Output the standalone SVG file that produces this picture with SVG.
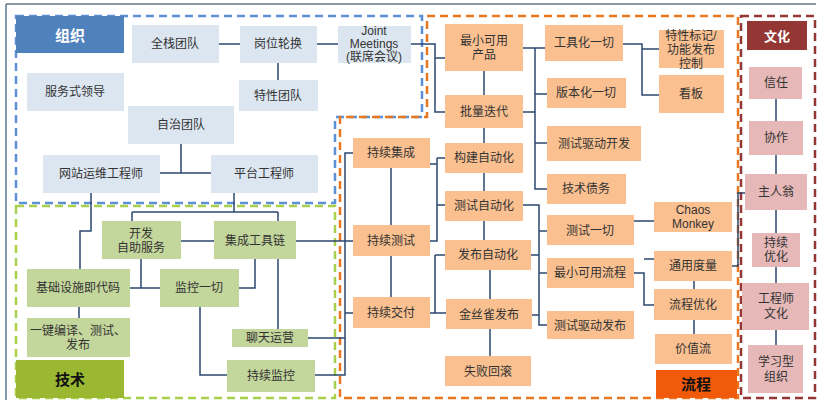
<svg xmlns="http://www.w3.org/2000/svg" width="827" height="420" viewBox="0 0 827 420">
<style>
text{font-family:"Liberation Sans","Noto Sans CJK SC",sans-serif;font-size:12px;fill:#333;text-anchor:middle;dominant-baseline:central}
.o{fill:#dce6f1}.t{fill:#c3d69b}.p{fill:#fac090}.c{fill:#e6b9b8}
.w{fill:#fff;font-weight:bold;font-size:15px}.b{fill:#111;font-weight:bold;font-size:15px}
#conn path{fill:none;stroke:#2c4770;stroke-width:1.5}
.d{fill:none;stroke-width:2.5;stroke-dasharray:8,5}
</style>
<rect width="827" height="420" fill="#fff"/>
<path d="M6,400V4H816" fill="none" stroke="#1f2d40" stroke-width="1"/>
<path d="M6,4V400" stroke="#7a9cc6" stroke-width="1"/>
<path class="d" stroke="#5b8fd6" d="M16,16H422V117H335V203H16Z"/>
<path class="d" stroke="#a8d04a" stroke-width="1.5" d="M16,206H335V398H16Z"/>
<path class="d" stroke="#e87722" d="M427,16H738V398H340V117H427Z"/>
<path class="d" stroke="#943634" d="M741,16H815V398H741Z"/>
<g id="conn">
<path d="M219,44H240M317,44H338M411,44H435V112H445M435,58H445M278,63V80M181,144V173M160,173H211"/>
<path d="M91,193V231H80V269M234,193V212M132,212H278M132,212V221M278,212V221"/>
<path d="M181,241H214M296,241H353M141,259V288M130,288H160M255,259V288H239M278,259V329M79,307V318M200,307V375H227M308,338H345M315,375H345V153H353M345,241H353M345,313H353"/>
<path d="M391,168V225M391,256V297"/>
<path d="M484,71V95M484,128V143M484,173V191M484,221V240M490,270V299M490,329V356"/>
<path d="M430,164H437M437,158H445M437,158V241H430M437,205H445M430,313H435M435,255V313H446M435,255H445"/>
<path d="M523,48H545M535,48V189H547M535,94H547M535,143H547M523,112H535"/>
<path d="M623,44H642V95H659M642,49H659"/>
<path d="M523,205H539V325H547M531,255H539M532,315H539M539,231H547M539,273H547"/>
<path d="M634,221H654M634,273H644V305H654M644,259H654M694,281V289M694,320V334M732,266H738V193H745"/>
<path d="M776,99V121M776,155V174M776,210V233M776,267V283M776,330V345"/>
</g>
<rect x="16" y="16" width="108" height="37" fill="#4f81bd"/><text class="w" x="70" y="35">组织</text>
<rect x="16" y="360" width="108" height="38" fill="#9bb832"/><text class="b" x="70" y="379">技术</text>
<rect x="656" y="370" width="81" height="28" fill="#f05a0a"/><text class="b" x="696" y="384">流程</text>
<rect x="747" y="21" width="60" height="29" fill="#943634"/><text class="w" x="777" y="36" style="font-size:13px">文化</text>
<g id="n1"><rect class="o" x="132" y="25" width="87" height="38"/><text x="175" y="44">全栈团队</text></g>
<g id="n2"><rect class="o" x="240" y="26" width="77" height="37"/><text x="278" y="44">岗位轮换</text></g>
<g id="n3"><rect class="o" x="338" y="26" width="73" height="37"/><text x="374" y="31">Joint</text><text x="374" y="44">Meetings</text><text x="374" y="57">(联席会议)</text></g>
<g id="n4"><rect class="o" x="27" y="73" width="97" height="38"/><text x="75" y="92">服务式领导</text></g>
<g id="n5"><rect class="o" x="239" y="80" width="79" height="31"/><text x="278" y="96">特性团队</text></g>
<g id="n6"><rect class="o" x="128" y="106" width="106" height="38"/><text x="181" y="125">自治团队</text></g>
<g id="n7"><rect class="o" x="43" y="155" width="117" height="38"/><text x="101" y="174">网站运维工程师</text></g>
<g id="n8"><rect class="o" x="211" y="155" width="107" height="38"/><text x="264" y="174">平台工程师</text></g>
<g id="t1"><rect class="t" x="102" y="221" width="79" height="38"/><text x="141" y="234">开发</text><text x="141" y="248">自助服务</text></g>
<g id="t2"><rect class="t" x="214" y="221" width="82" height="38"/><text x="255" y="241">集成工具链</text></g>
<g id="t3"><rect class="t" x="27" y="269" width="103" height="38"/><text x="78" y="288">基础设施即代码</text></g>
<g id="t4"><rect class="t" x="160" y="269" width="79" height="38"/><text x="199" y="288">监控一切</text></g>
<g id="t5"><rect class="t" x="27" y="318" width="103" height="39"/><text x="78" y="331">一键编译、测试、</text><text x="78" y="345">发布</text></g>
<g id="t6"><rect class="t" x="232" y="329" width="76" height="18"/><text x="270" y="338">聊天运营</text></g>
<g id="t7"><rect class="t" x="227" y="360" width="88" height="32"/><text x="271" y="376">持续监控</text></g>
<g id="p1"><rect class="p" x="353" y="138" width="77" height="30"/><text x="391" y="153">持续集成</text></g>
<g id="p2"><rect class="p" x="353" y="225" width="77" height="31"/><text x="391" y="241">持续测试</text></g>
<g id="p3"><rect class="p" x="353" y="297" width="77" height="31"/><text x="391" y="313">持续交付</text></g>
<g id="p4"><rect class="p" x="445" y="24" width="78" height="47"/><text x="484" y="41">最小可用</text><text x="484" y="55">产品</text></g>
<g id="p5"><rect class="p" x="445" y="95" width="78" height="33"/><text x="484" y="112">批量迭代</text></g>
<g id="p6"><rect class="p" x="445" y="143" width="78" height="30"/><text x="484" y="158">构建自动化</text></g>
<g id="p7"><rect class="p" x="445" y="191" width="78" height="30"/><text x="484" y="206">测试自动化</text></g>
<g id="p8"><rect class="p" x="445" y="240" width="86" height="30"/><text x="488" y="255">发布自动化</text></g>
<g id="p9"><rect class="p" x="446" y="299" width="86" height="30"/><text x="489" y="315">金丝雀发布</text></g>
<g id="p10"><rect class="p" x="445" y="356" width="86" height="30"/><text x="488" y="372">失败回滚</text></g>
<g id="p11"><rect class="p" x="545" y="25" width="78" height="36"/><text x="584" y="43">工具化一切</text></g>
<g id="p12"><rect class="p" x="547" y="78" width="79" height="30"/><text x="586" y="93">版本化一切</text></g>
<g id="p13"><rect class="p" x="547" y="126" width="94" height="35"/><text x="594" y="144">测试驱动开发</text></g>
<g id="p14"><rect class="p" x="547" y="174" width="79" height="30"/><text x="586" y="189">技术债务</text></g>
<g id="p15"><rect class="p" x="659" y="30" width="65" height="38"/><text x="691" y="36">特性标记/</text><text x="691" y="50">功能发布</text><text x="691" y="64">控制</text></g>
<g id="p16"><rect class="p" x="659" y="75" width="65" height="38"/><text x="691" y="94">看板</text></g>
<g id="p17"><rect class="p" x="547" y="215" width="87" height="30"/><text x="590" y="231">测试一切</text></g>
<g id="p18"><rect class="p" x="547" y="258" width="87" height="30"/><text x="590" y="273">最小可用流程</text></g>
<g id="p19"><rect class="p" x="547" y="311" width="87" height="28"/><text x="590" y="326">测试驱动发布</text></g>
<g id="p20"><rect class="p" x="654" y="202" width="78" height="30"/><text x="693" y="210">Chaos</text><text x="693" y="224">Monkey</text></g>
<g id="p21"><rect class="p" x="654" y="251" width="78" height="30"/><text x="693" y="266">通用度量</text></g>
<g id="p22"><rect class="p" x="654" y="289" width="78" height="31"/><text x="693" y="305">流程优化</text></g>
<g id="p23"><rect class="p" x="655" y="334" width="77" height="30"/><text x="693" y="349">价值流</text></g>
<g id="c1"><rect class="c" x="749" y="67" width="53" height="32"/><text x="776" y="83">信任</text></g>
<g id="c2"><rect class="c" x="749" y="121" width="54" height="34"/><text x="776" y="138">协作</text></g>
<g id="c3"><rect class="c" x="745" y="174" width="62" height="36"/><text x="776" y="192">主人翁</text></g>
<g id="c4"><rect class="c" x="752" y="233" width="48" height="34"/><text x="776" y="243">持续</text><text x="776" y="257">优化</text></g>
<g id="c5"><rect class="c" x="742" y="283" width="67" height="47"/><text x="776" y="299">工程师</text><text x="776" y="314">文化</text></g>
<g id="c6"><rect class="c" x="748" y="345" width="55" height="48"/><text x="776" y="362">学习型</text><text x="776" y="377">组织</text></g>
</svg>
